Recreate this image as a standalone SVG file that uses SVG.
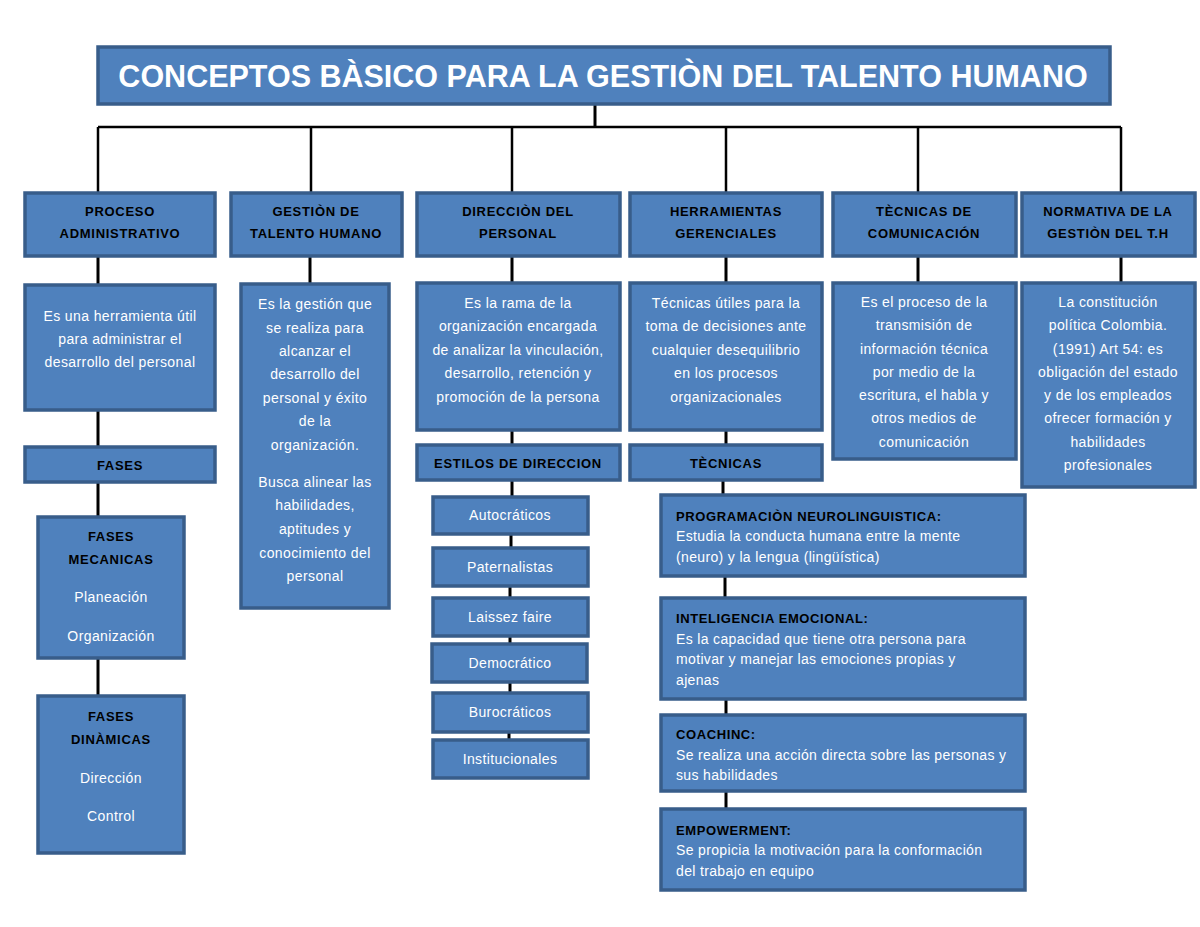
<svg xmlns="http://www.w3.org/2000/svg" width="1200" height="927" viewBox="0 0 1200 927">
<style>
.box{fill:#4F81BD;stroke:#385D8A;stroke-width:3.5}
.hd{font-family:"Liberation Sans",Arial,sans-serif;font-weight:bold;font-size:13px;letter-spacing:0.7px;fill:#000;text-anchor:middle}
.hl{font-family:"Liberation Sans",Arial,sans-serif;font-weight:bold;font-size:13px;letter-spacing:0.6px;fill:#000}
.bd{font-family:"Liberation Sans",Arial,sans-serif;font-size:14px;letter-spacing:0.4px;fill:#fff;text-anchor:middle}
.bl{font-family:"Liberation Sans",Arial,sans-serif;font-size:14px;letter-spacing:0.35px;fill:#fff}
.ttl{font-family:"Liberation Sans",Arial,sans-serif;font-weight:bold;font-size:30.5px;fill:#fff;text-anchor:middle}
.ln{stroke:#000;fill:none}
</style>
<rect width="1200" height="927" fill="#fff"/>
<g id="connectors">
<path class="ln" stroke-width="3" d="M595 104V127"/>
<path class="ln" stroke-width="2.5" d="M98 127H1121M98 127V193M311 127V193M512 127V193M726 127V193M918 127V193M1121 127V193"/>
<path class="ln" stroke-width="3" d="M98 256V285M98 410V447M98 482V517M98 658V696"/>
<path class="ln" stroke-width="3" d="M310 256V284"/>
<path class="ln" stroke-width="3" d="M512 256V283M512 430V445M512 480V497M511 534V548M510 586V598M510 636V644M510 682V693M509 732V740"/>
<path class="ln" stroke-width="3" d="M726 256V283M726 430V445M723 480V495M725 576V598M726 699V715M726 791V809"/>
<path class="ln" stroke-width="3" d="M918 256V283"/>
<path class="ln" stroke-width="3" d="M1121 256V283"/>
</g>
<g id="title">
<rect class="box" x="98" y="47" width="1012" height="57"/>
<text class="ttl" x="603" y="87">CONCEPTOS BÀSICO PARA LA GESTIÒN DEL TALENTO HUMANO</text>
</g>
<g id="proceso">
<rect class="box" x="25" y="193" width="190" height="63"/>
<text class="hd" x="120" y="216">PROCESO</text>
<text class="hd" x="120" y="238">ADMINISTRATIVO</text>
</g>
<g id="proceso-desc">
<rect class="box" x="25" y="285" width="190" height="125"/>
<text class="bd" x="120" y="321">Es una herramienta útil</text>
<text class="bd" x="120" y="344">para administrar el</text>
<text class="bd" x="120" y="367">desarrollo del personal</text>
</g>
<g id="fases">
<rect class="box" x="25" y="447" width="190" height="35"/>
<text class="hd" x="120" y="470">FASES</text>
</g>
<g id="fases-mecanicas">
<rect class="box" x="38" y="517" width="146" height="141"/>
<text class="hd" x="111" y="541">FASES</text>
<text class="hd" x="111" y="564">MECANICAS</text>
<text class="bd" x="111" y="602">Planeación</text>
<text class="bd" x="111" y="641">Organización</text>
</g>
<g id="fases-dinamicas">
<rect class="box" x="38" y="696" width="146" height="157"/>
<text class="hd" x="111" y="721">FASES</text>
<text class="hd" x="111" y="744">DINÀMICAS</text>
<text class="bd" x="111" y="783">Dirección</text>
<text class="bd" x="111" y="821">Control</text>
</g>
<g id="gestion">
<rect class="box" x="231" y="193" width="171" height="63"/>
<text class="hd" x="316" y="216">GESTIÒN DE</text>
<text class="hd" x="316" y="238">TALENTO HUMANO</text>
</g>
<g id="gestion-desc">
<rect class="box" x="241" y="284" width="148" height="324"/>
<text class="bd" x="315" y="309">Es la gestión que</text>
<text class="bd" x="315" y="333">se realiza para</text>
<text class="bd" x="315" y="356">alcanzar el</text>
<text class="bd" x="315" y="379">desarrollo del</text>
<text class="bd" x="315" y="403">personal y éxito</text>
<text class="bd" x="315" y="426">de la</text>
<text class="bd" x="315" y="450">organización.</text>
<text class="bd" x="315" y="487">Busca alinear las</text>
<text class="bd" x="315" y="510">habilidades,</text>
<text class="bd" x="315" y="534">aptitudes y</text>
<text class="bd" x="315" y="558">conocimiento del</text>
<text class="bd" x="315" y="581">personal</text>
</g>
<g id="direccion">
<rect class="box" x="417" y="193" width="203" height="63"/>
<text class="hd" x="518" y="216">DIRECCIÒN DEL</text>
<text class="hd" x="518" y="238">PERSONAL</text>
</g>
<g id="direccion-desc">
<rect class="box" x="417" y="283" width="203" height="147"/>
<text class="bd" x="518" y="308">Es la rama de la</text>
<text class="bd" x="518" y="331">organización encargada</text>
<text class="bd" x="518" y="355">de analizar la vinculación,</text>
<text class="bd" x="518" y="378">desarrollo, retención y</text>
<text class="bd" x="518" y="402">promoción de la persona</text>
</g>
<g id="estilos">
<rect class="box" x="417" y="445" width="203" height="35"/>
<text class="hd" x="518" y="468">ESTILOS DE DIRECCION</text>
</g>
<g id="autocraticos">
<rect class="box" x="433" y="497" width="155" height="37"/>
<text class="bd" x="510" y="520">Autocráticos</text>
</g>
<g id="paternalistas">
<rect class="box" x="433" y="548" width="155" height="38"/>
<text class="bd" x="510" y="572">Paternalistas</text>
</g>
<g id="laissez">
<rect class="box" x="433" y="598" width="155" height="38"/>
<text class="bd" x="510" y="622">Laissez faire</text>
</g>
<g id="democratico">
<rect class="box" x="432" y="644" width="155" height="38"/>
<text class="bd" x="510" y="668">Democrático</text>
</g>
<g id="burocraticos">
<rect class="box" x="433" y="693" width="155" height="39"/>
<text class="bd" x="510" y="717">Burocráticos</text>
</g>
<g id="institucionales">
<rect class="box" x="433" y="740" width="155" height="38"/>
<text class="bd" x="510" y="764">Institucionales</text>
</g>
<g id="herramientas">
<rect class="box" x="630" y="193" width="192" height="63"/>
<text class="hd" x="726" y="216">HERRAMIENTAS</text>
<text class="hd" x="726" y="238">GERENCIALES</text>
</g>
<g id="herramientas-desc">
<rect class="box" x="630" y="283" width="192" height="147"/>
<text class="bd" x="726" y="308">Técnicas útiles para la</text>
<text class="bd" x="726" y="331">toma de decisiones ante</text>
<text class="bd" x="726" y="355">cualquier desequilibrio</text>
<text class="bd" x="726" y="378">en los procesos</text>
<text class="bd" x="726" y="402">organizacionales</text>
</g>
<g id="tecnicas">
<rect class="box" x="630" y="445" width="192" height="35"/>
<text class="hd" x="726" y="468">TÈCNICAS</text>
</g>
<g id="pnl">
<rect class="box" x="661" y="495" width="364" height="81"/>
<text class="hl" x="676" y="521">PROGRAMACIÒN NEUROLINGUISTICA:</text>
<text class="bl" x="676" y="541">Estudia la conducta humana entre la mente</text>
<text class="bl" x="676" y="562">(neuro) y la lengua (lingüística)</text>
</g>
<g id="inteligencia">
<rect class="box" x="661" y="598" width="364" height="101"/>
<text class="hl" x="676" y="623">INTELIGENCIA EMOCIONAL:</text>
<text class="bl" x="676" y="644">Es la capacidad que tiene otra persona para</text>
<text class="bl" x="676" y="664">motivar y manejar las emociones propias y</text>
<text class="bl" x="676" y="685">ajenas</text>
</g>
<g id="coaching">
<rect class="box" x="661" y="715" width="364" height="76"/>
<text class="hl" x="676" y="739">COACHINC:</text>
<text class="bl" x="676" y="760">Se realiza una acción directa sobre las personas y</text>
<text class="bl" x="676" y="780">sus habilidades</text>
</g>
<g id="empowerment">
<rect class="box" x="661" y="809" width="364" height="81"/>
<text class="hl" x="676" y="835">EMPOWERMENT:</text>
<text class="bl" x="676" y="855">Se propicia la motivación para la conformación</text>
<text class="bl" x="676" y="876">del trabajo en equipo</text>
</g>
<g id="comunicacion">
<rect class="box" x="833" y="193" width="183" height="63"/>
<text class="hd" x="924" y="216">TÈCNICAS DE</text>
<text class="hd" x="924" y="238">COMUNICACIÓN</text>
</g>
<g id="comunicacion-desc">
<rect class="box" x="833" y="283" width="183" height="176"/>
<text class="bd" x="924" y="307">Es el proceso de la</text>
<text class="bd" x="924" y="330">transmisión de</text>
<text class="bd" x="924" y="354">información técnica</text>
<text class="bd" x="924" y="377">por medio de la</text>
<text class="bd" x="924" y="400">escritura, el habla y</text>
<text class="bd" x="924" y="423">otros medios de</text>
<text class="bd" x="924" y="447">comunicación</text>
</g>
<g id="normativa">
<rect class="box" x="1022" y="193" width="173" height="63"/>
<text class="hd" x="1108" y="216">NORMATIVA DE LA</text>
<text class="hd" x="1108" y="238">GESTIÒN DEL T.H</text>
</g>
<g id="normativa-desc">
<rect class="box" x="1022" y="283" width="173" height="204"/>
<text class="bd" x="1108" y="307">La constitución</text>
<text class="bd" x="1108" y="330">política Colombia.</text>
<text class="bd" x="1108" y="354">(1991) Art 54: es</text>
<text class="bd" x="1108" y="377">obligación del estado</text>
<text class="bd" x="1108" y="400">y de los empleados</text>
<text class="bd" x="1108" y="423">ofrecer formación y</text>
<text class="bd" x="1108" y="447">habilidades</text>
<text class="bd" x="1108" y="470">profesionales</text>
</g>
</svg>
